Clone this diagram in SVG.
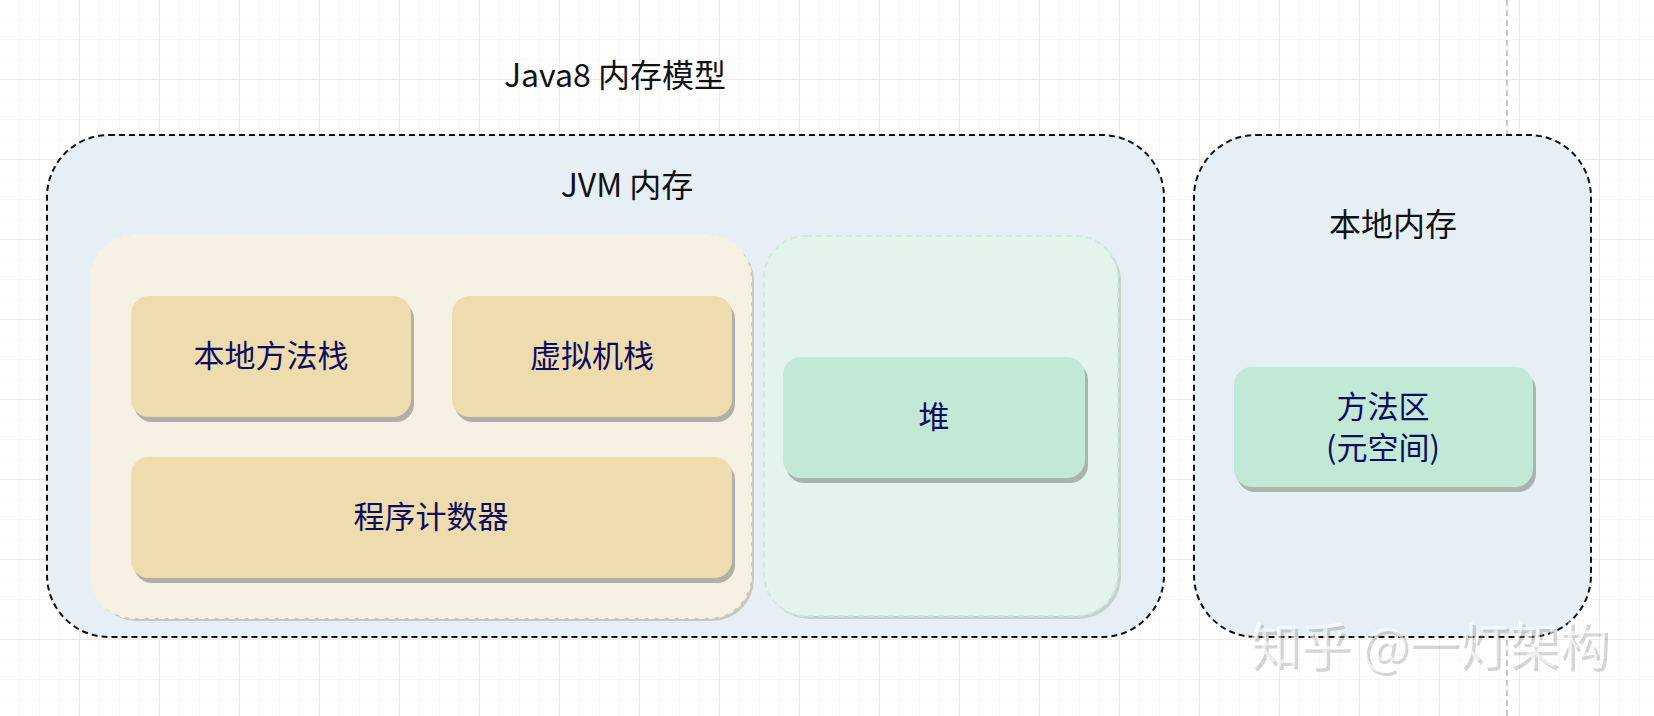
<svg xmlns="http://www.w3.org/2000/svg" width="1654" height="716" viewBox="0 0 1654 716">
<defs>
<pattern id="g" width="20" height="20" patternUnits="userSpaceOnUse"><path d="M20 0V20H0" fill="none" stroke="#efefef" stroke-width="1"/></pattern>
<pattern id="G" width="80" height="80" patternUnits="userSpaceOnUse"><rect width="80" height="80" fill="url(#g)"/><path d="M80 0V80H0" fill="none" stroke="#dedede" stroke-width="1"/></pattern>
</defs>
<style>
.outer{fill:#e6eff6;stroke:#111;stroke-width:2;stroke-dasharray:6 4}
.yc{fill:#f5f0e1;stroke:#f8f1dc;stroke-width:2;stroke-dasharray:6 4}
.gc{fill:#e3f4ec;stroke:#cdebdc;stroke-width:2;stroke-dasharray:6 4}
.y{fill:#eedcae}
.gr{fill:#c1e9d6}
.sh{fill:#b0b0a8}
.t{font-family:"Noto Sans CJK SC","Liberation Sans",sans-serif;text-anchor:middle}
.lbl{font-size:31px;fill:#0d0d5e}
.hd{font-size:32px;fill:#111}
</style>
<rect width="1654" height="716" fill="#fff"/>
<rect width="1654" height="716" fill="url(#G)"/>
<line x1="1507" y1="0" x2="1507" y2="716" stroke="#c8c8c8" stroke-width="2" stroke-dasharray="6 4"/>
<text class="t hd" x="615" y="87">Java8 内存模型</text>
<g id="jvm"><rect class="outer" x="47" y="135" width="1117" height="502" rx="62"/><text class="t hd" x="627" y="197">JVM 内存</text></g>
<g id="stack-area"><rect x="94" y="239" width="660" height="382" rx="42" fill="#c8c8c0"/><rect class="yc" x="91" y="236" width="660" height="382" rx="42"/></g>
<g id="heap-area"><rect x="767" y="239" width="354" height="380" rx="42" fill="#c8d0cc"/><rect class="gc" x="764" y="236" width="354" height="380" rx="42"/></g>
<g id="native-stack"><rect class="sh" x="134" y="301" width="280" height="121" rx="18"/><rect class="y" x="131" y="296" width="280" height="121" rx="18"/><text class="t lbl" x="271" y="367">本地方法栈</text></g>
<g id="vm-stack"><rect class="sh" x="455" y="301" width="280" height="121" rx="18"/><rect class="y" x="452" y="296" width="280" height="121" rx="18"/><text class="t lbl" x="592" y="367">虚拟机栈</text></g>
<g id="pc"><rect class="sh" x="134" y="462" width="601" height="121" rx="18"/><rect class="y" x="131" y="457" width="601" height="121" rx="18"/><text class="t lbl" x="431" y="528">程序计数器</text></g>
<g id="heap"><rect x="786" y="362" width="302" height="121" rx="18" fill="#a8b4ae"/><rect class="gr" x="783" y="357" width="302" height="121" rx="18"/><text class="t lbl" x="934" y="428">堆</text></g>
<g id="native"><rect class="outer" x="1194" y="135" width="397" height="502" rx="62"/><text class="t hd" x="1393" y="236">本地内存</text></g>
<g id="metaspace"><rect x="1237" y="372" width="299" height="120" rx="18" fill="#a8b4ae"/><rect class="gr" x="1234" y="367" width="299" height="120" rx="18"/><text class="t lbl" x="1383" y="418">方法区</text><text class="t lbl" x="1383" y="459">(元空间)</text></g>
<g id="connectors"/>
<text class="t" x="1432" y="667" font-size="50" fill="#888" opacity="0.35">知乎 @一灯架构</text>
<text class="t" x="1429" y="664" font-size="50" fill="#fff" opacity="0.6">知乎 @一灯架构</text>
</svg>
